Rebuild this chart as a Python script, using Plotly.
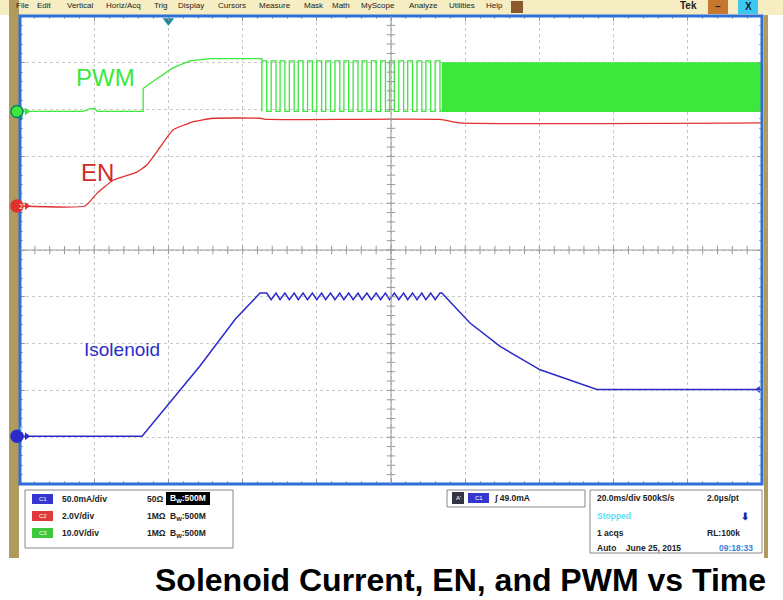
import plotly.graph_objects as go

# --- data (time in ms, 20 ms/div) ---
# Isolenoid, mA (50 mA/div, ground at -4 div)
i_t = [0, 32.9, 48.5, 58.0, 64.7]
i_ma = [0, 0, 75, 125, 153]
i_fall_t = [113.7, 121.3, 129.4, 140.2, 155.5, 200]
i_fall_ma = [153, 121, 96, 71, 50, 50]
ripple_peak = 153
ripple_valley = 146

# PWM burst rising edges (ms) during the hold phase
pwm_edges = [65.2, 67.7, 70.1, 72.6, 75.0, 77.5, 80.0, 82.4, 84.9, 87.3,
             89.8, 92.2, 94.7, 97.2, 99.6, 102.1, 104.5, 107.0, 109.4, 111.9]
pulse_high_ms = 1.3

# PWM, V (10 V/div, ground at 2.96 div)
pwm_t = [0, 17.0, 18.9, 20.2, 20.8, 33.2, 33.2, 35.8, 41.2, 45.8, 51.2, 65.2]
pwm_v = [0, 0, 0.6, 0.6, 0, 0, 4.9, 6.4, 9.3, 10.8, 11.3, 11.3]
pwm_burst_high = 10.8
pwm_dense_t = [113.7, 200]
pwm_dense_high = 10.4

# EN, V (2 V/div, ground at 0.94 div)
en_t = [0, 17.5, 20.8, 25.1, 31.5, 34.2, 37.7, 41.2, 46.6, 52.0, 64.7, 66.6, 113.2, 118.6, 200]
en_v = [0, 0, 0.55, 1.1, 1.45, 1.75, 2.5, 3.25, 3.6, 3.75, 3.75, 3.7, 3.7, 3.55, 3.55]

# vertical scaling: volts or mA -> divisions on screen
I_REF, I_SCALE = -3.98, 50.0
EN_REF, EN_SCALE = 0.94, 2.0
PWM_REF, PWM_SCALE = 2.96, 10.0

GREEN = "#3BE83B"
RED = "#E03030"
BLUE = "#2B2BCC"

# build the burst and the ripple from the edge list
bt, bv, rt, ri = [], [], [], []
for k, e in enumerate(pwm_edges):
    bt += [e, e, e + pulse_high_ms, e + pulse_high_ms]
    bv += [0, pwm_burst_high, pwm_burst_high, 0]
    rt += [e, e + pulse_high_ms]
    ri += [ripple_valley if k else ripple_peak, ripple_peak]
rt.append(i_fall_t[0])
ri.append(ripple_peak)

fig = go.Figure()

def tr(x, y, ref, scale, color, width=1.3):
    fig.add_trace(go.Scatter(x=x, y=[ref + v / scale for v in y], mode="lines",
                             line=dict(color=color, width=width, shape="spline", smoothing=0.4),
                             hoverinfo="skip"))

tr(pwm_t + bt + [pwm_dense_t[0]], pwm_v + bv + [0], PWM_REF, PWM_SCALE, GREEN)
fig.data[-1].line.shape = "linear"
# dense PWM band
fig.add_trace(go.Scatter(x=pwm_dense_t, y=[PWM_REF] * 2, mode="lines",
                         line=dict(color=GREEN, width=1), hoverinfo="skip"))
fig.add_trace(go.Scatter(x=pwm_dense_t, y=[PWM_REF + pwm_dense_high / PWM_SCALE] * 2,
                         mode="lines", fill="tonexty", fillcolor=GREEN,
                         line=dict(color=GREEN, width=1), hoverinfo="skip"))
tr(en_t, en_v, EN_REF, EN_SCALE, RED)
tr(i_t + rt + i_fall_t, i_ma + ri + i_fall_ma, I_REF, I_SCALE, BLUE, 1.5)
fig.data[-1].line.shape = "linear"

# center graticule ticks
tx = [k * 4 for k in range(51)]
ty = [-5 + k * 0.2 for k in range(51)]
fig.add_trace(go.Scatter(x=tx, y=[0] * len(tx), mode="markers",
                         marker=dict(symbol="line-ns-open", size=6, color="#999", line_width=1),
                         hoverinfo="skip"))
fig.add_trace(go.Scatter(x=[100] * len(ty), y=ty, mode="markers",
                         marker=dict(symbol="line-ew-open", size=6, color="#999", line_width=1),
                         hoverinfo="skip"))

W, H = 783, 600
def px(x): return (x - 20) / 742
def py(y): return (484 - y) / 468

shapes = [
    dict(type="rect", xref="paper", yref="paper", x0=px(0), x1=px(783), y0=py(0), y1=py(15),
         fillcolor="#F6EDC2", line_width=0, layer="below"),
    dict(type="rect", xref="paper", yref="paper", x0=px(9), x1=px(19), y0=py(0), y1=py(558),
         fillcolor="#B09A5E", line_width=0, layer="below"),
    dict(type="rect", xref="paper", yref="paper", x0=px(764), x1=px(768), y0=py(15), y1=py(558),
         fillcolor="#B09A5E", line_width=0, layer="below"),
    dict(type="rect", xref="paper", yref="paper", x0=0, x1=1, y0=0, y1=1,
         line=dict(color="#2E6FD8", width=3)),
]

# channel markers (circles drawn as shapes on the left edge)
for yv, c, n in [(PWM_REF, GREEN, "3"), (EN_REF, RED, "2"), (I_REF, BLUE, "1")]:
    cy = 250 - yv * 46.8
    shapes.append(dict(type="circle", xref="paper", yref="paper", x0=px(11), x1=px(23),
                       y0=py(cy + 6), y1=py(cy - 6), fillcolor=c,
                       line=dict(color="#086" if n == "3" else c, width=1.5)))
    fig.add_annotation(xref="paper", yref="paper", x=px(17), y=py(cy), text=n, showarrow=False,
                       font=dict(size=7, color="#063" if n == "3" else "white"))
    fig.add_trace(go.Scatter(x=[1.8], y=[yv], mode="markers", cliponaxis=False,
                             marker=dict(symbol="triangle-right", size=7, color=c), hoverinfo="skip"))
fig.add_trace(go.Scatter(x=[40], y=[4.9], mode="markers", cliponaxis=False,
                         marker=dict(symbol="triangle-down", size=10, color="#1a8a9a"), hoverinfo="skip"))
fig.add_trace(go.Scatter(x=[199], y=[I_REF + 50 / I_SCALE], mode="markers", cliponaxis=False,
                         marker=dict(symbol="triangle-left", size=6, color=BLUE), hoverinfo="skip"))

fig.add_annotation(x=23, y=3.68, text="PWM", showarrow=False, xanchor="center",
                   font=dict(family="Liberation Sans", size=24, color=GREEN))
fig.add_annotation(x=20.8, y=1.66, text="EN", showarrow=False,
                   font=dict(family="Liberation Sans", size=24, color="#D02A2A"))
fig.add_annotation(x=27.5, y=-2.13, text="Isolenoid", showarrow=False,
                   font=dict(family="Liberation Sans", size=19, color=BLUE))

for x0, x1, y0, y1 in [(25, 233, 490, 548), (447, 585, 490, 507), (590, 762, 490, 553)]:
    shapes.append(dict(type="rect", xref="paper", yref="paper", x0=px(x0), x1=px(x1),
                       y0=py(y1), y1=py(y0), line=dict(color="#888", width=1), fillcolor="white"))
# channel badges
for yy, c in [(499, "#3535D0"), (516, "#E03A3A"), (533, "#3BC83B")]:
    shapes.append(dict(type="rect", xref="paper", yref="paper", x0=px(32), x1=px(53),
                       y0=py(yy + 5), y1=py(yy - 5), fillcolor=c, line_width=0))
shapes.append(dict(type="rect", xref="paper", yref="paper", x0=px(468), x1=px(489),
                   y0=py(503), y1=py(493), fillcolor="#3535D0", line_width=0))
shapes.append(dict(type="rect", xref="paper", yref="paper", x0=px(452), x1=px(464),
                   y0=py(504), y1=py(492), fillcolor="#334", line_width=0))
shapes.append(dict(type="rect", xref="paper", yref="paper", x0=px(166), x1=px(210),
                   y0=py(505), y1=py(492), fillcolor="black", line_width=0))
# menu bar icons
shapes.append(dict(type="rect", xref="paper", yref="paper", x0=px(511), x1=px(523),
                   y0=py(13), y1=py(1), fillcolor="#8B5A2B", line_width=0))
shapes.append(dict(type="rect", xref="paper", yref="paper", x0=px(708), x1=px(728),
                   y0=py(14), y1=py(0), fillcolor="#C8782E", line_width=0))
shapes.append(dict(type="rect", xref="paper", yref="paper", x0=px(738), x1=px(758),
                   y0=py(14), y1=py(0), fillcolor="#3DC8F0", line_width=0))

def txt(x, y, s, size=8.5, color="#222", anchor="left", bold=True, family="Liberation Sans"):
    fig.add_annotation(xref="paper", yref="paper", x=px(x), y=py(y), text=f"<b>{s}</b>" if bold else s,
                       showarrow=False, xanchor=anchor, yanchor="middle",
                       font=dict(family=family, size=size, color=color))

menu = [("File", 22), ("Edit", 44), ("Vertical", 80), ("Horiz/Acq", 123), ("Trig", 160),
        ("Display", 191), ("Cursors", 232), ("Measure", 275), ("Mask", 314), ("Math", 341),
        ("MyScope", 378), ("Analyze", 423), ("Utilities", 462), ("Help", 494)]
for s, x in menu:
    txt(x, 5, s, size=8, anchor="center", bold=False)
txt(688, 5, "Tek", size=10, anchor="center")
txt(718, 6, "–", size=10, anchor="center", color="#222")
txt(748, 6, "X", size=10, anchor="center", color="#124")

for yy, c, a, b in [(499, "C1", "50.0mA/div", "50Ω"), (516, "C2", "2.0V/div", "1MΩ"),
                    (533, "C3", "10.0V/div", "1MΩ")]:
    txt(42.5, yy, c, size=6, color="white", anchor="center", bold=False)
    txt(60, yy, a)
    txt(145, yy, b)
txt(168, 499, "B<sub>W</sub>:500M", color="white")
txt(168, 516, "B<sub>W</sub>:500M")
txt(168, 533, "B<sub>W</sub>:500M")
txt(458, 498, "A'", size=6, color="white", anchor="center", bold=False)
txt(478.5, 498, "C1", size=6, color="white", anchor="center", bold=False)
txt(492, 498, "∫ 49.0mA")
txt(595, 498, "20.0ms/div 500kS/s")
txt(705, 498, "2.0µs/pt")
txt(595, 516, "Stopped", color="#5CE0F0")
txt(745, 516, "⬇", size=10, color="#1a2aa0", anchor="center")
txt(595, 533, "1 acqs")
txt(705, 533, "RL:100k")
txt(595, 548, "Auto    June 25, 2015")
txt(755, 548, "09:18:33", color="#3A7FD8", anchor="right")

fig.add_annotation(xref="paper", yref="paper", x=px(460), y=py(580), text="<b>Solenoid Current, EN, and PWM vs Time</b>",
                   showarrow=False, xanchor="center", yanchor="middle",
                   font=dict(family="Liberation Sans", size=32, color="black"))

grid = dict(showgrid=True, gridcolor="#C8C8C8", griddash="dot", gridwidth=1, zeroline=False,
            showticklabels=False, ticks="inside", ticklen=5, tickcolor="#999", mirror="ticks",
            showline=False, fixedrange=True,
            minor=dict(ticks="inside", ticklen=3, tickcolor="#aaa"))
fig.update_layout(
    width=W, height=H, showlegend=False,
    margin=dict(l=20, r=783 - 762, t=16, b=600 - 484),
    paper_bgcolor="white", plot_bgcolor="white",
    xaxis=dict(range=[0, 200], dtick=20, minor_dtick=4, **grid),
    yaxis=dict(range=[-5, 5], dtick=1, minor_dtick=0.2, **grid),
    shapes=shapes,
)
fig.add_shape(type="line", x0=100, x1=100, y0=-5, y1=5, line=dict(color="#999", width=1))
fig.add_shape(type="line", x0=0, x1=200, y0=0, y1=0, line=dict(color="#999", width=1))
fig.write_html("out.html", post_script="document.body.style.margin='0';", config={"displayModeBar": False})
